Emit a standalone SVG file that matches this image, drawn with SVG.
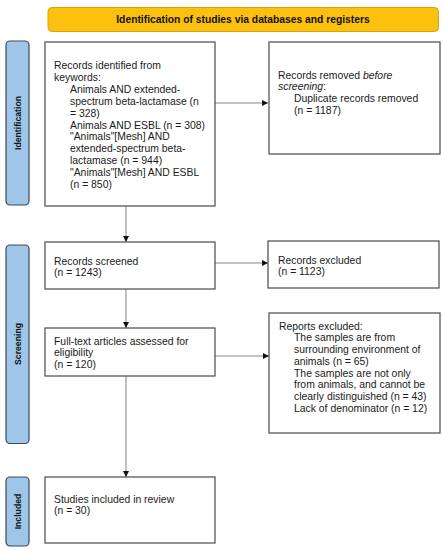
<svg xmlns="http://www.w3.org/2000/svg" width="443" height="550" viewBox="0 0 443 550">
<defs>
<style>
.box{fill:#fff;stroke:#4a4a4a;stroke-width:1.2}
.side{fill:#9fc5e8;stroke:#3d4a58;stroke-width:1.2}
.t{font-family:"Liberation Sans",Arial,sans-serif;font-size:10.4px;fill:#1a1a1a}
.sl{font-family:"Liberation Sans",Arial,sans-serif;font-size:8.7px;font-weight:bold;fill:#111;text-anchor:middle}
.hd{font-family:"Liberation Sans",Arial,sans-serif;font-size:10.3px;font-weight:bold;fill:#111;text-anchor:middle}
.ln{fill:none;stroke:#8a8a8a;stroke-width:1.1}
</style>
<marker id="ah" viewBox="0 0 10 10" refX="10" refY="5" markerWidth="6" markerHeight="6" markerUnits="userSpaceOnUse" orient="auto">
<path d="M0,0 L10,5 L0,10 Z" fill="#111"/>
</marker>
</defs>
<rect width="443" height="550" fill="#fff"/>
<g id="header">
<rect x="48" y="7.5" width="390.5" height="24" rx="4" fill="#fcc10f" stroke="#d9a20a" stroke-width="1"/>
<text class="hd" x="243" y="23.3">Identification of studies via databases and registers</text>
</g>
<g id="side-identification">
<rect class="side" x="6" y="41" width="23" height="164" rx="4"/>
<text class="sl" transform="translate(20.5,123) rotate(-90)">Identification</text>
</g>
<g id="side-screening">
<rect class="side" x="6" y="245" width="23" height="198.5" rx="4"/>
<text class="sl" transform="translate(20.5,344) rotate(-90)">Screening</text>
</g>
<g id="side-included">
<rect class="side" x="6" y="477" width="23" height="69" rx="4"/>
<text class="sl" transform="translate(20.5,511.5) rotate(-90)">Included</text>
</g>
<g id="connectors">
<path class="ln" d="M215,103 H268" marker-end="url(#ah)"/>
<path class="ln" d="M126,206 V242" marker-end="url(#ah)"/>
<path class="ln" d="M215,263 H268" marker-end="url(#ah)"/>
<path class="ln" d="M126,289 V328" marker-end="url(#ah)"/>
<path class="ln" d="M215,356 H269" marker-end="url(#ah)"/>
<path class="ln" d="M126,376 V477" marker-end="url(#ah)"/>
</g>
<g id="identified">
<rect class="box" x="45" y="42" width="170" height="164"/>
<text class="t">
<tspan x="54" y="69.3">Records identified from</tspan>
<tspan x="54" y="81.1">keywords:</tspan>
<tspan x="70" y="93">Animals AND extended-</tspan>
<tspan x="70" y="104.8">spectrum beta-lactamase (n</tspan>
<tspan x="70" y="116.6">= 328)</tspan>
<tspan x="70" y="128.5">Animals AND ESBL (n = 308)</tspan>
<tspan x="70" y="140.3">"Animals"[Mesh] AND</tspan>
<tspan x="70" y="152.1">extended-spectrum beta-</tspan>
<tspan x="70" y="163.9">lactamase (n = 944)</tspan>
<tspan x="70" y="175.8">"Animals"[Mesh] AND ESBL</tspan>
<tspan x="70" y="187.6">(n = 850)</tspan>
</text>
</g>
<g id="removed">
<rect class="box" x="269" y="42" width="171" height="112"/>
<text class="t">
<tspan x="278" y="78.6">Records removed <tspan font-style="italic">before</tspan></tspan>
<tspan x="278" y="90.3" font-style="italic">screening</tspan><tspan>:</tspan>
<tspan x="294" y="101.9">Duplicate records removed</tspan>
<tspan x="294" y="113.6">(n = 1187)</tspan>
</text>
</g>
<g id="screened">
<rect class="box" x="45" y="242" width="170" height="47"/>
<text class="t">
<tspan x="54" y="264.6">Records screened</tspan>
<tspan x="54" y="276.2">(n = 1243)</tspan>
</text>
</g>
<g id="excluded">
<rect class="box" x="268" y="241" width="171" height="47"/>
<text class="t">
<tspan x="278" y="263.6">Records excluded</tspan>
<tspan x="278" y="275.3">(n = 1123)</tspan>
</text>
</g>
<g id="fulltext">
<rect class="box" x="45" y="328" width="170" height="48"/>
<text class="t">
<tspan x="54" y="344.6">Full-text articles assessed for</tspan>
<tspan x="54" y="356.3">eligibility</tspan>
<tspan x="54" y="368">(n = 120)</tspan>
</text>
</g>
<g id="reports">
<rect class="box" x="269" y="313" width="171" height="120"/>
<text class="t">
<tspan x="279" y="329.6">Reports excluded:</tspan>
<tspan x="294" y="341.4">The samples are from</tspan>
<tspan x="294" y="353.1">surrounding environment of</tspan>
<tspan x="294" y="364.9">animals (n = 65)</tspan>
<tspan x="294" y="376.6">The samples are not only</tspan>
<tspan x="294" y="388.4">from animals, and cannot be</tspan>
<tspan x="294" y="400.1">clearly distinguished (n = 43)</tspan>
<tspan x="294" y="411.9">Lack of denominator (n = 12)</tspan>
</text>
</g>
<g id="included">
<rect class="box" x="45" y="477" width="170" height="66"/>
<text class="t">
<tspan x="54" y="503">Studies included in review</tspan>
<tspan x="54" y="514.4">(n = 30)</tspan>
</text>
</g>
</svg>
